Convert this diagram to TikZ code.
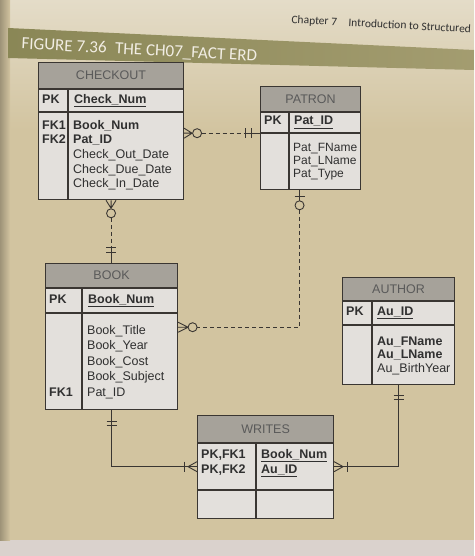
\documentclass[tikz,border=0pt]{standalone}
\usepackage{fontspec}
\setmainfont{Liberation Sans}
\newfontfamily\capfont{Carlito}
\usetikzlibrary{calc}
\definecolor{pg}{RGB}{210, 196, 160}
\definecolor{pgt}{RGB}{228, 220, 200}
\definecolor{pgb}{RGB}{218, 210, 205}
\definecolor{ban}{RGB}{138, 135, 86}
\definecolor{hd}{RGB}{166, 162, 154}
\definecolor{bx}{RGB}{227, 224, 220}
\definecolor{ln}{RGB}{58, 54, 50}
\definecolor{tx}{RGB}{48, 48, 48}

\begin{document}
\begin{tikzpicture}[x=1pt, y=-1pt,
  tb/.style={draw=ln, line width=1.1pt, fill=bx, anchor=north west, inner sep=0pt},
  th/.style={tb, fill=hd, text=tx!80, font=\fontsize{12.5}{14}\selectfont},
  attr/.style={anchor=base west, inner sep=0pt, text=tx, font=\fontsize{12.5}{14}\selectfont},
  keyt/.style={attr, font=\fontsize{12.5}{14}\selectfont\bfseries},
  rel/.style={draw=ln, line width=0.9pt},
  opt/.style={rel, dash pattern=on 4pt off 3pt}]
  \useasboundingbox (0,0) rectangle (474,556);
  \fill[pg] (0,0) rectangle (474,556);
  \shade[top color=pgt, bottom color=pg] (0,0) rectangle (474,130);
  \fill[pgb] (0,540) rectangle (474,556);
  \shade[left color=pg!75!black, right color=pg] (0,0) rectangle (10,540);
  \shade[left color=ban, right color=ban!65!pg] (8,28) -- (474,50) -- (474,70) -- (8,58) -- cycle;
  \node[rotate=-3, anchor=west, text=pgt!50!white, font=\capfont\fontsize{17}{19}\selectfont] (fig) at (18,44) {FIGURE 7.36\enspace THE CH07\_FACT ERD};
  \node[rotate=-3, anchor=west, text=tx, font=\capfont\fontsize{11.5}{13}\selectfont] (chap) at (288,20) {Chapter 7\quad Introduction to Structured};

  \node[th, minimum width=145pt, minimum height=26pt] (chkh) at (38,62) {CHECKOUT};
  \node[tb, minimum width=145pt, minimum height=22pt] (chkk) at (chkh.south west) {};
  \node[tb, minimum width=145pt, minimum height=87pt] (chkb) at (chkk.south west) {};
  \draw[ln, line width=1.1pt] ($(chkk.north west)+(30,0)$) -- ($(chkb.south west)+(30,0)$);
  \node[keyt] (chkpk) at (42,103.5) {PK};
  \node[keyt] (chkid) at (74,103.5) {\underline{Check\_Num}};
  \node[keyt] (chkf1) at (42,129.5) {FK1};
  \node[keyt] (chkf2) at (42,144) {FK2};
  \foreach \t [count=\i] in {\textbf{Book\_Num}, \textbf{Pat\_ID}, Check\_Out\_Date, Check\_Due\_Date, Check\_In\_Date}
    \node[attr] (chk\i) at (73,115+14.5*\i) {\t};

  \node[th, minimum width=100pt, minimum height=25pt] (path) at (260,86) {PATRON};
  \node[tb, minimum width=100pt, minimum height=20pt] (patk) at (path.south west) {};
  \node[tb, minimum width=100pt, minimum height=56pt] (patb) at (patk.south west) {};
  \draw[ln, line width=1.1pt] ($(patk.north west)+(29,0)$) -- ($(patb.south west)+(29,0)$);
  \node[keyt] (patpk) at (264,125) {PK};
  \node[keyt] (patid) at (294,125) {\underline{Pat\_ID}};
  \foreach \t [count=\i] in {Pat\_FName, Pat\_LName, Pat\_Type}
    \node[attr, font=\fontsize{12}{14}\selectfont] (pat\i) at (293,139.5+12.5*\i) {\t};

  \node[th, minimum width=132pt, minimum height=24pt] (bkh) at (45,263) {BOOK};
  \node[tb, minimum width=132pt, minimum height=24pt] (bkk) at (bkh.south west) {};
  \node[tb, minimum width=132pt, minimum height=96pt] (bkb) at (bkk.south west) {};
  \draw[ln, line width=1.1pt] ($(bkk.north west)+(37,0)$) -- ($(bkb.south west)+(37,0)$);
  \node[keyt] (bkpk) at (49,303) {PK};
  \node[keyt] (bkid) at (88,303) {\underline{Book\_Num}};
  \node[keyt] (bkf1) at (49,396) {FK1};
  \foreach \t [count=\i] in {Book\_Title, Book\_Year, Book\_Cost, Book\_Subject, Pat\_ID}
    \node[attr] (bk\i) at (87,318.5+15.5*\i) {\t};

  \node[th, minimum width=112pt, minimum height=23pt] (auh) at (342,277) {AUTHOR};
  \node[tb, minimum width=112pt, minimum height=23pt] (auk) at (auh.south west) {};
  \node[tb, minimum width=112pt, minimum height=59pt] (aub) at (auk.south west) {};
  \draw[ln, line width=1.1pt] ($(auk.north west)+(30,0)$) -- ($(aub.south west)+(30,0)$);
  \node[keyt] (aupk) at (346,315.5) {PK};
  \node[keyt] (auid) at (377,315.5) {\underline{Au\_ID}};
  \foreach \t [count=\i] in {\textbf{Au\_FName}, \textbf{Au\_LName}, Au\_BirthYear}
    \node[attr] (au\i) at (377,331.5+13.5*\i) {\t};

  \node[th, minimum width=136pt, minimum height=27pt] (wrh) at (197,415) {WRITES};
  \node[tb, minimum width=136pt, minimum height=46pt] (wrk) at (wrh.south west) {};
  \node[tb, minimum width=136pt, minimum height=28pt] (wrb) at (wrk.south west) {};
  \draw[ln, line width=1.1pt] ($(wrk.north west)+(59,0)$) -- ($(wrb.south west)+(59,0)$);
  \node[keyt] (wrpk1) at (201,458.5) {PK,FK1};
  \node[keyt] (wrpk2) at (201,473.5) {PK,FK2};
  \node[keyt] (wrid1) at (261,458.5) {\underline{Book\_Num}};
  \node[keyt] (wrid2) at (261,473.5) {\underline{Au\_ID}};

  \coordinate (cp) at (chkb.east |- patb.north west);
  \draw[rel] ($(cp)+(8,0)$) -- ($(cp)+(0,-5)$) ($(cp)+(8,0)$) -- (cp) ($(cp)+(8,0)$) -- ($(cp)+(0,5)$);
  \draw[opt] ($(cp)+(17.5,0)$) -- ($(patb.north west)+(-16,0)$);
  \draw[rel] ($(patb.north west)+(-16,0)$) -- (patb.north west);
  \draw[rel] ($(patb.north west)+(-15,-5)$) -- ++(0,10) ($(patb.north west)+(-9,-5)$) -- ++(0,10);
  \filldraw[rel, fill=pg] ($(cp)+(13,0)$) circle (4.5pt);

  \coordinate (cb) at (chkb.south |- bkh.north);
  \draw[rel] ($(chkb.south)+(0,8)$) -- ($(chkb.south)+(-5,0)$) ($(chkb.south)+(0,8)$) -- (chkb.south) ($(chkb.south)+(0,8)$) -- ($(chkb.south)+(5,0)$);
  \draw[opt] ($(chkb.south)+(0,17.5)$) -- ($(cb)+(0,-17)$);
  \draw[rel] ($(cb)+(0,-17)$) -- (cb);
  \draw[rel] ($(cb)+(-5,-16)$) -- ++(10,0) ($(cb)+(-5,-11)$) -- ++(10,0);
  \filldraw[rel, fill=pg] ($(chkb.south)+(0,13)$) circle (4.5pt);

  \coordinate (pb) at ($(patb.south)+(-11,0)$);
  \coordinate (bt) at ($(bkb.north east)+(0,14)$);
  \draw[rel] (pb) -- ($(pb)+(0,10.5)$);
  \draw[rel] ($(pb)+(-5,6)$) -- ++(10,0);
  \draw[opt] ($(pb)+(0,19.5)$) |- ($(bt)+(19,0)$);
  \draw[rel] ($(bt)+(10,0)$) -- ($(bt)+(0,-5)$) ($(bt)+(10,0)$) -- (bt) ($(bt)+(10,0)$) -- ($(bt)+(0,5)$);
  \filldraw[rel, fill=pg] ($(pb)+(0,15)$) circle (4.5pt);
  \filldraw[rel, fill=pg] ($(bt)+(14.5,0)$) circle (4.5pt);

  \draw[rel] (bkb.south) |- (wrk.west);
  \draw[rel] ($(bkb.south)+(-5,11)$) -- ++(10,0) ($(bkb.south)+(-5,15)$) -- ++(10,0);
  \draw[rel] ($(wrk.west)+(-9,0)$) -- ($(wrk.west)+(0,-5)$) ($(wrk.west)+(-9,0)$) -- ($(wrk.west)+(0,5)$);
  \draw[rel] ($(wrk.west)+(-13,-5)$) -- ++(0,10);

  \draw[rel] (aub.south) |- (wrk.east);
  \draw[rel] ($(aub.south)+(-5,10)$) -- ++(10,0) ($(aub.south)+(-5,14)$) -- ++(10,0);
  \draw[rel] ($(wrk.east)+(9,0)$) -- ($(wrk.east)+(0,-5)$) ($(wrk.east)+(9,0)$) -- ($(wrk.east)+(0,5)$);
  \draw[rel] ($(wrk.east)+(13,-5)$) -- ++(0,10);
\end{tikzpicture}
\end{document}
